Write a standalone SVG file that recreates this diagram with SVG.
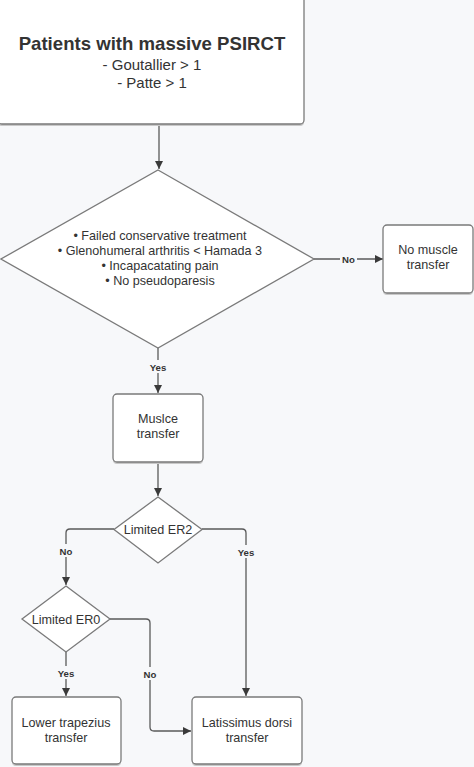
<svg xmlns="http://www.w3.org/2000/svg" width="474" height="767" viewBox="0 0 474 767">
<defs>
<style>
.bg{fill:#f7f8fa}
.box{fill:#ffffff;stroke:#7a7a7a;stroke-width:1.3}
.sh{fill:#c8c8c8}
.t{font-family:"Liberation Sans",Arial,sans-serif;fill:#333333;text-anchor:middle}
.n{font-size:12.6px}
.s{font-size:15px}
.h{font-size:18.6px;font-weight:bold}
.lbl{font-family:"Liberation Sans",Arial,sans-serif;font-size:9.6px;font-weight:bold;fill:#333333;text-anchor:middle}
.lb{fill:#f7f8fa}
.c{fill:none;stroke:#5a5a5a;stroke-width:1.3}
</style>
<marker id="ah" viewBox="0 0 10 10" refX="10" refY="5" markerWidth="8" markerHeight="8" markerUnits="userSpaceOnUse" orient="auto">
<path d="M0,0 L10,5 L0,10 z" fill="#3a3a3a"/>
</marker>
</defs>
<rect class="bg" x="0" y="0" width="474" height="767"/>

<g id="connectors">
<path class="c" d="M159,124 V169" marker-end="url(#ah)"/>
<path class="c" d="M314,259 H383" marker-end="url(#ah)"/>
<path class="c" d="M158,348 V393" marker-end="url(#ah)"/>
<path class="c" d="M158,462 V496" marker-end="url(#ah)"/>
<path class="c" d="M202,529 H242 Q246,529 246,533 V696" marker-end="url(#ah)"/>
<path class="c" d="M114,529 H70 Q66,529 66,533 V585" marker-end="url(#ah)"/>
<path class="c" d="M66,652 V696" marker-end="url(#ah)"/>
<path class="c" d="M110,619 H146 Q150,619 150,623 V727 Q150,731 154,731 H191" marker-end="url(#ah)"/>
<rect class="lb" x="340" y="252" width="17" height="13"/>
<text class="lbl" x="348.5" y="262.5">No</text>
<rect class="lb" x="148" y="360" width="21" height="13"/>
<text class="lbl" x="158" y="370.5">Yes</text>
<rect class="lb" x="236" y="545" width="21" height="13"/>
<text class="lbl" x="246" y="555.5">Yes</text>
<rect class="lb" x="57" y="544" width="18" height="13"/>
<text class="lbl" x="66" y="554.5">No</text>
<rect class="lb" x="56" y="666" width="21" height="13"/>
<text class="lbl" x="66" y="676.5">Yes</text>
<rect class="lb" x="141" y="667" width="18" height="13"/>
<text class="lbl" x="150" y="677.5">No</text>
</g>

<g id="start">
<rect class="sh" x="-2" y="-4" width="306" height="130" rx="4"/>
<rect class="box" x="-2" y="-4" width="306" height="128" rx="4"/>
<text class="t h" x="152" y="50">Patients with massive PSIRCT</text>
<text class="t s" x="152" y="69.5">- Goutallier &gt; 1</text>
<text class="t s" x="152" y="87.5">- Patte &gt; 1</text>
</g>

<g id="criteria">
<path class="box" d="M158,170 L314,259 L158,348 L1,259 Z"/>
<text class="t n" x="160" y="239.5">• Failed conservative treatment</text>
<text class="t n" x="160" y="254.5">• Glenohumeral arthritis &lt; Hamada 3</text>
<text class="t n" x="160" y="269.5">• Incapacatating pain</text>
<text class="t n" x="160" y="284.5">• No pseudoparesis</text>
</g>

<g id="no-transfer">
<rect class="sh" x="383" y="226" width="90" height="69" rx="4"/>
<rect class="box" x="383" y="225" width="90" height="68" rx="4"/>
<text class="t n" x="428" y="254">No muscle</text>
<text class="t n" x="428" y="269">transfer</text>
</g>

<g id="muscle-transfer">
<rect class="sh" x="113" y="395" width="90" height="69" rx="4"/>
<rect class="box" x="113" y="394" width="90" height="68" rx="4"/>
<text class="t n" x="158" y="423">Muslce</text>
<text class="t n" x="158" y="438">transfer</text>
</g>

<g id="er2">
<path class="box" d="M158,497 L202,529.5 L158,563 L114,529.5 Z"/>
<text class="t n" x="158" y="534">Limited ER2</text>
</g>

<g id="er0">
<path class="box" d="M66,586 L110,619 L66,652 L22,619 Z"/>
<text class="t n" x="66" y="623.5">Limited ER0</text>
</g>

<g id="lower-trapezius">
<rect class="sh" x="12" y="698" width="109" height="68" rx="4"/>
<rect class="box" x="12" y="697" width="109" height="67" rx="4"/>
<text class="t n" x="66" y="727">Lower trapezius</text>
<text class="t n" x="66" y="742">transfer</text>
</g>

<g id="latissimus-dorsi">
<rect class="sh" x="192" y="698" width="110" height="68" rx="4"/>
<rect class="box" x="192" y="697" width="110" height="67" rx="4"/>
<text class="t n" x="247" y="727">Latissimus dorsi</text>
<text class="t n" x="247" y="742">transfer</text>
</g>
</svg>
